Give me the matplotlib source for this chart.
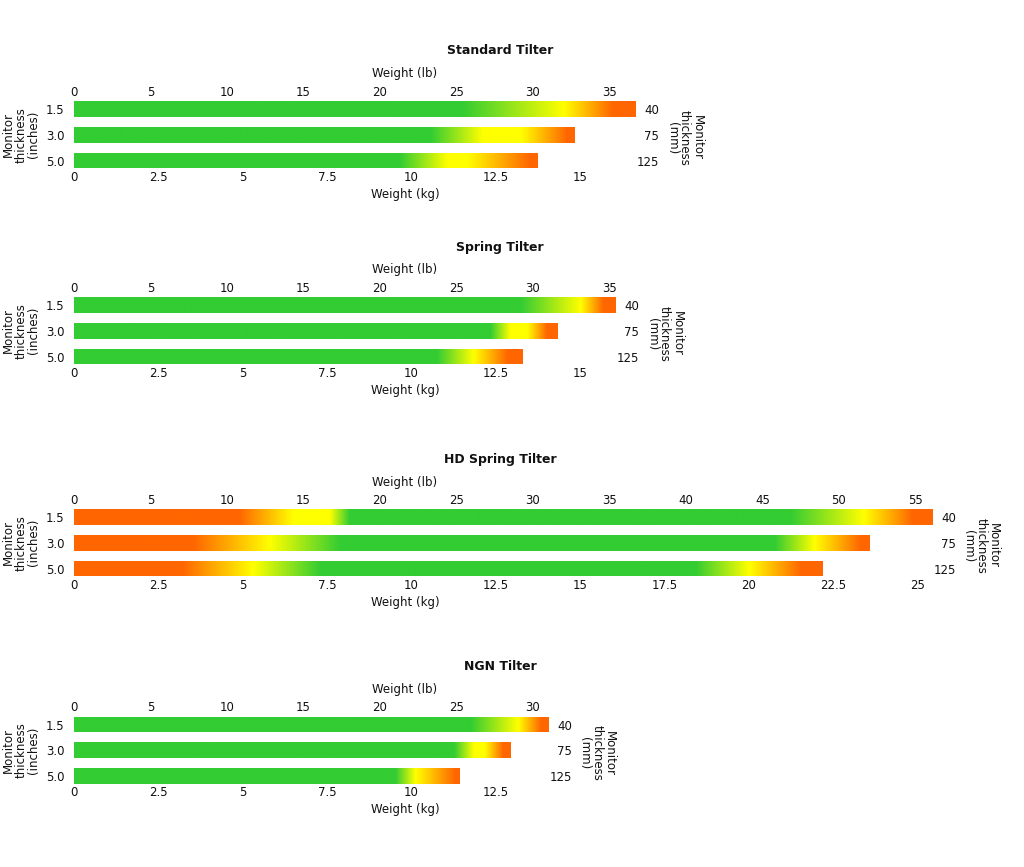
import matplotlib
matplotlib.use('Agg')
import matplotlib.pyplot as plt
import numpy as np
from matplotlib.colors import to_rgb

W, H = 1024, 867
DPI = 100

# data (weights in lb)
THICK_IN = ['1.5', '3.0', '5.0']
THICK_MM = ['40', '75', '125']

TITLES = ['Standard Tilter', 'Spring Tilter', 'HD Spring Tilter', 'NGN Tilter']
standard = [36.7, 32.7, 30.3]
spring = [35.4, 31.6, 29.3]
hd_spring = [56.1, 52.0, 48.9]
ngn = [31.0, 28.5, 25.2]
VALUES = [standard, spring, hd_spring, ngn]

# colour stops along each bar: (lb, colour key)
standard_grad = [
    [(25.4, 'g'), (32.0, 'y'), (35.2, 'o')],
    [(23.3, 'g'), (26.7, 'y'), (29.2, 'y'), (32.2, 'o')],
    [(21.3, 'g'), (24.4, 'y'), (25.7, 'y'), (29.8, 'o')],
]
spring_grad = [
    [(29.2, 'g'), (33.1, 'y'), (34.6, 'o')],
    [(27.2, 'g'), (28.5, 'y'), (29.6, 'y'), (30.9, 'o')],
    [(23.7, 'g'), (26.1, 'y'), (28.3, 'o')],
]
hd_grad = [
    [(10.8, 'o'), (14.3, 'y'), (16.7, 'y'), (18.0, 'g'), (46.8, 'g'), (51.6, 'y'), (54.8, 'o')],
    [(7.8, 'o'), (12.8, 'y'), (17.4, 'g'), (45.8, 'g'), (48.4, 'y'), (51.4, 'o')],
    [(7.1, 'o'), (11.7, 'y'), (16.1, 'g'), (40.6, 'g'), (44.1, 'y'), (47.5, 'o')],
]
ngn_grad = [
    [(25.9, 'g'), (29.0, 'y'), (30.5, 'o')],
    [(24.8, 'g'), (26.1, 'y'), (26.8, 'y'), (28.0, 'o')],
    [(21.0, 'g'), (22.3, 'y'), (24.9, 'o')],
]
GRADS = [standard_grad, spring_grad, hd_grad, ngn_grad]

COLS = {'g': '#33cc33', 'y': '#ffff00', 'o': '#ff6600'}
TXT = '#111111'
FS = 8.5
LB_PER_KG = 2.20462

# layout in pixels
PANEL_Y = [109, 305, 517, 724.5]   # centre of first bar
ROW_PX = 25.75
PX_PER_LB = 15.3
X0 = 74

plt.rcParams['font.family'] = ['DejaVu Sans']

fig = plt.figure(figsize=(W / DPI, H / DPI), dpi=DPI)


def fx(px):
    return px / W


def fy(py):
    return 1 - py / H


def gradient(stops, xs):
    pos = [s[0] for s in stops]
    rgb = np.array([to_rgb(COLS[s[1]]) for s in stops])
    return np.stack([np.interp(xs, pos, rgb[:, k]) for k in range(3)], axis=-1)


def panel(i):
    vals = VALUES[i]
    xmax = max(vals)
    c1 = PANEL_Y[i]
    top = c1 - 0.34 * ROW_PX
    hgt = 2.68 * ROW_PX
    ax = fig.add_axes([fx(X0), fy(top + hgt), xmax * PX_PER_LB / W, hgt / H])

    ys = np.arange(len(vals))
    bars = ax.barh(ys, vals, height=0.62, color='none', edgecolor='none')
    for b, v, y, st in zip(bars, vals, ys, GRADS[i]):
        xs = np.linspace(0, v, 2000)
        img = np.repeat(gradient(st, xs)[None, :, :], 4, axis=0)
        im = ax.imshow(img, extent=(0, v, y + 0.31, y - 0.31), aspect='auto',
                       interpolation='antialiased')
        im.set_clip_path(b)

    ax.set_xlim(0, xmax)
    ax.set_ylim(2.34, -0.34)
    for s in ax.spines.values():
        s.set_visible(False)

    ax.xaxis.tick_top()
    ax.set_xticks(np.arange(0, xmax + 0.01, 5))
    ax.set_xticklabels([f'{t:g}' for t in np.arange(0, xmax + 0.01, 5)])
    ax.tick_params(axis='x', length=0, pad=1, labelsize=FS, labelcolor=TXT)

    ax.set_yticks(ys)
    ax.set_yticklabels(THICK_IN)
    ax.tick_params(axis='y', length=0, pad=7, labelsize=FS, labelcolor=TXT)

    kg = ax.secondary_xaxis('bottom', functions=(lambda x: x / LB_PER_KG, lambda x: x * LB_PER_KG))
    kmax = xmax / LB_PER_KG
    kt = np.arange(0, kmax + 0.01, 2.5)
    kg.set_xticks(kt)
    kg.set_xticklabels([f'{t:g}' for t in kt])
    kg.tick_params(length=0, pad=1, labelsize=FS, labelcolor=TXT)
    for s in kg.spines.values():
        s.set_visible(False)

    mm = ax.secondary_yaxis('right')
    mm.set_yticks(ys)
    mm.set_yticklabels(THICK_MM, ha='right')
    mm.tick_params(length=0, pad=17, labelsize=FS, labelcolor=TXT)
    for s in mm.spines.values():
        s.set_visible(False)

    ax.annotate('Monitor\nthickness\n(inches)', xy=(0, 0.5), xycoords='axes fraction',
                xytext=(-53, 0), textcoords='offset pixels', rotation=90,
                ha='center', va='center', multialignment='center',
                linespacing=0.95, fontsize=FS, color=TXT)
    ax.annotate('Monitor\nthickness\n(mm)', xy=(1, 0.5), xycoords='axes fraction',
                xytext=(49, -3), textcoords='offset pixels', rotation=-90,
                ha='center', va='center', multialignment='center',
                linespacing=0.95, fontsize=FS, color=TXT)

    fig.text(fx(500), fy(c1 - 58), TITLES[i], ha='center', va='center',
             fontsize=9, fontweight='bold', color=TXT)
    fig.text(fx(405), fy(c1 - 35), 'Weight (lb)', ha='center', va='center',
             fontsize=FS, color=TXT)
    fig.text(fx(405), fy(c1 + 2 * ROW_PX + 34), 'Weight (kg)', ha='center', va='center',
             fontsize=FS, color=TXT)


for i in range(len(TITLES)):
    panel(i)

fig.savefig('out.png', dpi=DPI, facecolor='white')
